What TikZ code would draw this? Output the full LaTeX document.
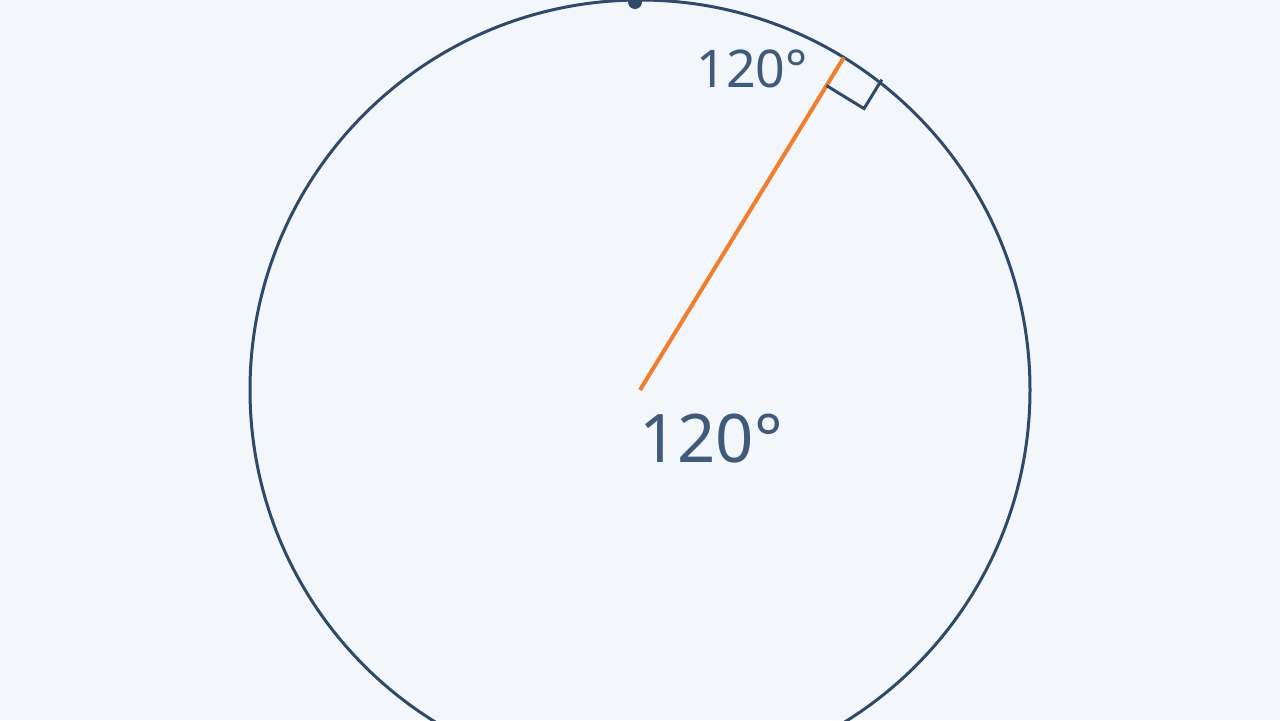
\documentclass[tikz,border=0pt]{standalone}
\usepackage{fontspec}
\setmainfont{Noto Sans}
\usetikzlibrary{calc}
\definecolor{bgc}{HTML}{F3F7FB}
\definecolor{circc}{HTML}{2E4A68}
\definecolor{orangec}{HTML}{F07E2C}
\definecolor{textc}{HTML}{3F5A7A}
\tikzset{
  circline/.style={draw=circc, line width=1.5pt},
  radiusline/.style={draw=orangec, line width=2pt},
  marker/.style={draw=circc, line width=1.5pt},
  biglabel/.style={text=textc, font=\fontsize{33.5}{40}\selectfont, inner sep=0pt},
  smalllabel/.style={text=textc, font=\fontsize{26}{31}\selectfont, inner sep=0pt}
}
\begin{document}
\begin{tikzpicture}[x=0.5pt,y=0.5pt]
\fill[bgc] (0,0) rectangle (1280,720);
\useasboundingbox (0,0) rectangle (1280,720);
\coordinate (O) at (640,330);
\coordinate (P) at ($(O)+(58.5:390)$);
\coordinate (A) at ($(O)+(58.5:357)$);
\coordinate (B) at ($(A)+(-31.5:44)$);
\coordinate (C) at ($(B)+(58.5:34)$);
\begin{scope}
\clip (0,0) rectangle (1280,720);
\draw[circline] (O) circle[radius=390];
\fill[circc] (635,718) circle[radius=7];
\end{scope}
\draw[radiusline] (O) -- (P);
\draw[marker] (A) -- (B) -- (C);
\node[biglabel] (big) at (711,281) {120°};
\node[smalllabel] (small) at (752,651) {120°};
\end{tikzpicture}
\end{document}
